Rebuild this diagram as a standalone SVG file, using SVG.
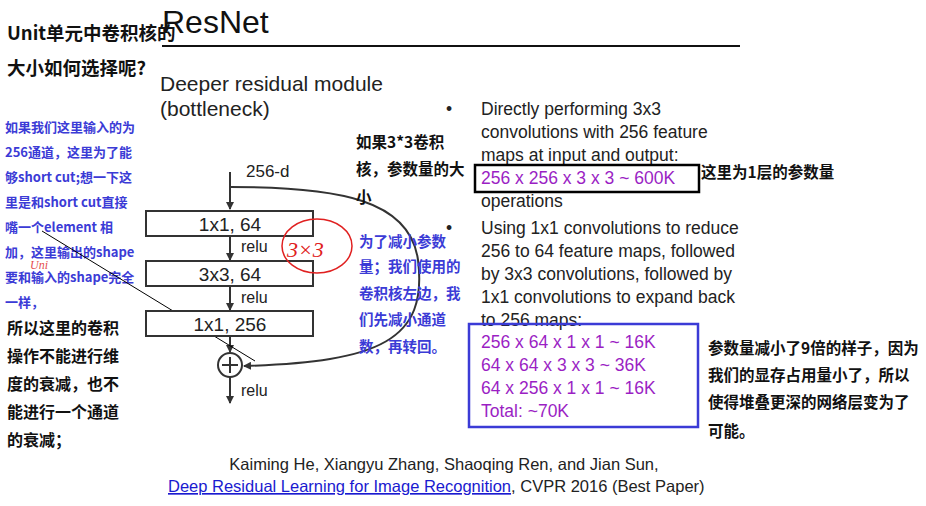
<svg xmlns="http://www.w3.org/2000/svg" width="926" height="506" viewBox="0 0 926 506">
<style>
.s{font-family:"Liberation Sans","Noto Sans CJK SC",sans-serif}
.c{font-family:"Noto Sans CJK SC",sans-serif;font-weight:bold}
.bl{fill:#3b3bd6}
.pu{fill:#9b1fc4}
.bx{fill:#fff;stroke:#333;stroke-width:2}
.ln{stroke:#333;stroke-width:2;fill:none}
</style>
<defs><marker id="a" markerWidth="8" markerHeight="8" refX="7" refY="4" orient="auto" markerUnits="userSpaceOnUse"><path d="M0,0L8,4L0,8z" fill="#333"/></marker></defs>
<rect width="926" height="506" fill="#fff"/>
<g id="title">
<text x="162" y="33" class="s" font-size="32" fill="#111">ResNet</text>
<line x1="162" y1="46" x2="740" y2="46" stroke="#111" stroke-width="2"/>
<text x="160" y="91" class="s" font-size="21" fill="#222">Deeper residual module</text>
<text x="160" y="116" class="s" font-size="21" fill="#222">(bottleneck)</text>
</g>
<g id="q"><text class="c" font-size="18.5" fill="#111"><tspan x="7" y="40">Unit单元中卷积核的</tspan><tspan x="7" y="75">大小如何选择呢?</tspan></text></g>
<g id="leftblue"><text class="c bl" font-size="13">
<tspan x="5" y="132">如果我们这里输入的为</tspan><tspan x="5" y="157">256通道，这里为了能</tspan><tspan x="5" y="182">够short cut;想一下这</tspan><tspan x="5" y="207">里是和short cut直接</tspan><tspan x="5" y="232">嘴一个element 相</tspan><tspan x="5" y="257">加，这里输出的shape</tspan><tspan x="5" y="282">要和输入的shape完全</tspan><tspan x="5" y="307">一样，</tspan></text></g>
<g id="leftblack"><text class="c" font-size="16" fill="#111">
<tspan x="7" y="334">所以这里的卷积</tspan><tspan x="7" y="362">操作不能进行维</tspan><tspan x="7" y="390">度的衰减，也不</tspan><tspan x="7" y="418">能进行一个通道</tspan><tspan x="7" y="446">的衰减；</tspan></text></g>
<g id="connectors">
<line x1="230" y1="172" x2="230" y2="209" class="ln" marker-end="url(#a)"/>
<line x1="230" y1="236" x2="230" y2="260" class="ln" marker-end="url(#a)"/>
<line x1="230" y1="286" x2="230" y2="310" class="ln" marker-end="url(#a)"/>
<line x1="230" y1="336" x2="230" y2="352" class="ln" marker-end="url(#a)"/>
<line x1="230" y1="377" x2="230" y2="403" class="ln" marker-end="url(#a)"/>
<path d="M230,187 C340,187 410,200 418,260 C428,340 380,362 244,366" class="ln" marker-end="url(#a)"/>
<line x1="42" y1="231" x2="255" y2="361" stroke="#000" stroke-width="1"/>
</g>
<g id="n256d"><text x="246" y="177" class="s" font-size="17" fill="#222">256-d</text></g>
<g id="b1"><rect x="146" y="211" width="167" height="25" class="bx"/><text x="230" y="231" text-anchor="middle" class="s" font-size="19" fill="#222">1x1, 64</text></g>
<g id="b2"><rect x="146" y="261" width="167" height="25" class="bx"/><text x="230" y="281" text-anchor="middle" class="s" font-size="19" fill="#222">3x3, 64</text></g>
<g id="b3"><rect x="146" y="311" width="167" height="25" class="bx"/><text x="230" y="331" text-anchor="middle" class="s" font-size="19" fill="#222">1x1, 256</text></g>
<g id="relu"><text class="s" font-size="16" fill="#222"><tspan x="241" y="252">relu</tspan><tspan x="241" y="303">relu</tspan><tspan x="241" y="396">relu</tspan></text></g>
<g id="plus"><circle cx="230" cy="365" r="12" fill="#fff" stroke="#333" stroke-width="2"/><path d="M222,365H238M230,357V373" stroke="#333" stroke-width="2"/></g>
<g id="red"><ellipse cx="317" cy="246" rx="35" ry="27" fill="none" stroke="#e02020" stroke-width="1.5"/><text x="287" y="257" font-family="Liberation Serif,serif" font-style="italic" font-size="22" fill="#e02020">3×3</text>
<text x="30" y="269" font-family="Liberation Serif,serif" font-style="italic" font-size="12" fill="#e02020" opacity="0.8">Uni</text></g>
<g id="mid"><text class="c" font-size="15.5" fill="#111"><tspan x="356" y="148">如果3*3卷积</tspan><tspan x="356" y="175">核，参数量的大</tspan><tspan x="356" y="203">小</tspan></text>
<text class="c bl" font-size="14.5"><tspan x="359" y="247">为了减小参数</tspan><tspan x="359" y="272">量；我们使用的</tspan><tspan x="359" y="299">卷积核左边，我</tspan><tspan x="359" y="325">们先减小通道</tspan><tspan x="359" y="352">数，再转回。</tspan></text></g>
<g id="bullets"><text class="s" font-size="17.5" fill="#222">
<tspan x="446" y="115">•</tspan><tspan x="481" y="115">Directly performing 3x3</tspan><tspan x="481" y="138">convolutions with 256 feature</tspan><tspan x="481" y="161">maps at input and output:</tspan><tspan x="481" y="207">operations</tspan>
<tspan x="446" y="234">•</tspan><tspan x="481" y="234">Using 1x1 convolutions to reduce</tspan><tspan x="481" y="257">256 to 64 feature maps, followed</tspan><tspan x="481" y="280">by 3x3 convolutions, followed by</tspan><tspan x="481" y="303">1x1 convolutions to expand back</tspan><tspan x="481" y="326">to 256 maps:</tspan></text>
<rect x="475" y="165" width="224" height="27" fill="none" stroke="#000" stroke-width="2.5"/>
<text x="481" y="184" class="s pu" font-size="17.5">256 x 256 x 3 x 3 ~ 600K</text>
<text x="701" y="178" class="c" font-size="15.5" fill="#111">这里为1层的参数量</text>
<rect x="469" y="324" width="229" height="103" fill="none" stroke="#3b3bd6" stroke-width="2.5"/>
<text class="s pu" font-size="17.5"><tspan x="481" y="348">256 x 64 x 1 x 1 ~ 16K</tspan><tspan x="481" y="371">64 x 64 x 3 x 3 ~ 36K</tspan><tspan x="481" y="394">64 x 256 x 1 x 1 ~ 16K</tspan><tspan x="481" y="417">Total: ~70K</tspan></text></g>
<g id="note"><text class="c" font-size="15.5" fill="#111"><tspan x="708" y="354">参数量减小了9倍的样子，因为</tspan><tspan x="708" y="381">我们的显存占用量小了，所以</tspan><tspan x="708" y="408">使得堆叠更深的网络层变为了</tspan><tspan x="708" y="437">可能。</tspan></text></g>
<g id="cite"><text x="444" y="470" text-anchor="middle" class="s" font-size="16.5" fill="#222">Kaiming He, Xiangyu Zhang, Shaoqing Ren, and Jian Sun,</text>
<text x="168" y="492" class="s" font-size="16.5" fill="#222"><tspan fill="#1a1ad0" text-decoration="underline">Deep Residual Learning for Image Recognition</tspan>, CVPR 2016 (Best Paper)</text></g>
</svg>
